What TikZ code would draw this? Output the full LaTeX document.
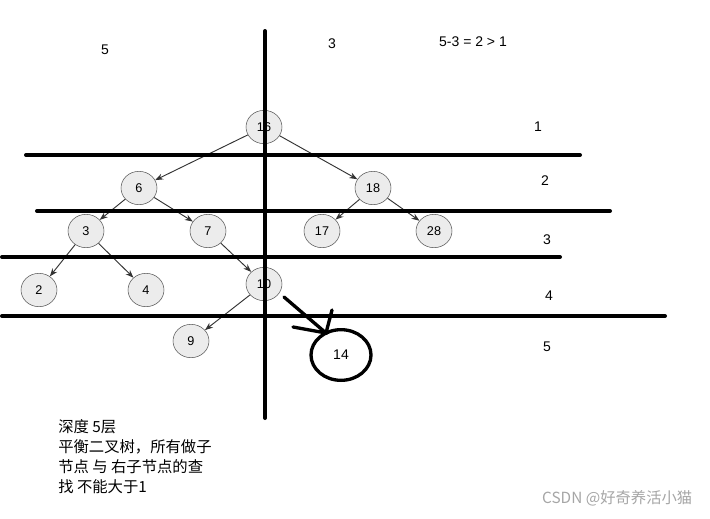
\documentclass[tikz,border=0pt]{standalone}
\usepackage{fontspec}
\setmainfont{Liberation Sans}
\newfontfamily\cjk{Noto Sans CJK SC}
\usetikzlibrary{arrows.meta,shapes.geometric}
\begin{document}
\begin{tikzpicture}[x=0.75pt,y=-0.75pt,
  tn/.style={ellipse,draw=gray!70!black,fill=gray!15,minimum width=27pt,minimum height=25pt,inner sep=0pt,font=\fontsize{9.5}{10}\selectfont},
  edge/.style={draw=gray!40!black,line width=0.7pt,-{Stealth[length=6pt]}},
  bar/.style={line width=3pt,line cap=round},
  lbl/.style={font=\fontsize{10.5}{12}\selectfont}]
\useasboundingbox (0,0) rectangle (710,518);
\fill[white] (0,0) rectangle (710,518);
\node[tn] (n16) at (264,127) {16};
\node[tn] (n6) at (139,188) {6};
\node[tn] (n18) at (373,188) {18};
\node[tn] (n3) at (86,231) {3};
\node[tn] (n7) at (208,231) {7};
\node[tn] (n17) at (322,231) {17};
\node[tn] (n28) at (434,231) {28};
\node[tn] (n2) at (39,290) {2};
\node[tn] (n4) at (146,290) {4};
\node[tn] (n10) at (264,284) {10};
\node[tn] (n9) at (191,341) {9};
\node[ellipse,draw,line width=2.5pt,minimum width=45pt,minimum height=38pt,inner sep=0pt,font=\fontsize{10.5}{12}\selectfont] (n14) at (341,355) {14};
\draw[edge] (n16) -- (n6);
\draw[edge] (n16) -- (n18);
\draw[edge] (n6) -- (n3);
\draw[edge] (n6) -- (n7);
\draw[edge] (n18) -- (n17);
\draw[edge] (n18) -- (n28);
\draw[edge] (n3) -- (n2);
\draw[edge] (n3) -- (n4);
\draw[edge] (n7) -- (n10);
\draw[edge] (n10) -- (n9);
\coordinate (a1) at (284,297);
\coordinate (a2) at (326,333);
\coordinate (h1) at (293,327);
\coordinate (h2) at (332,310);
\draw[line width=2.5pt,line cap=round] (a1) -- (a2) (h1) -- (a2) -- (h2);
\coordinate (l1a) at (26,155); \coordinate (l1b) at (580,155);
\coordinate (l2a) at (37,211); \coordinate (l2b) at (610,211);
\coordinate (l3a) at (2,257); \coordinate (l3b) at (560,257);
\coordinate (l4a) at (2,316); \coordinate (l4b) at (665,316);
\coordinate (va) at (265,31); \coordinate (vb) at (265,418);
\draw[bar] (l1a) -- (l1b) (l2a) -- (l2b) (l3a) -- (l3b) (l4a) -- (l4b);
\draw[bar] (va) -- (vb);
\node[lbl] (t5) at (105,50) {5};
\node[lbl] (t3) at (332,44) {3};
\node[lbl] (tf) at (473,42) {5-3 = 2 > 1};
\node[lbl] (d1) at (538,127) {1};
\node[lbl] (d2) at (545,181) {2};
\node[lbl] (d3) at (547,240) {3};
\node[lbl] (d4) at (549,296) {4};
\node[lbl] (d5) at (547,347) {5};
\node[anchor=north west,align=left,inner sep=0pt,font=\cjk\fontsize{11.5}{15}\selectfont] (txt) at (58,419) {深度\ 5层\\平衡二叉树，所有做子\\节点\ 与\ 右子节点的查\\找\ 不能大于1};
\node[anchor=east,text=gray!70,font=\cjk\fontsize{11.5}{12}\selectfont] (wm) at (697,498) {CSDN @好奇养活小猫};
\end{tikzpicture}
\end{document}
